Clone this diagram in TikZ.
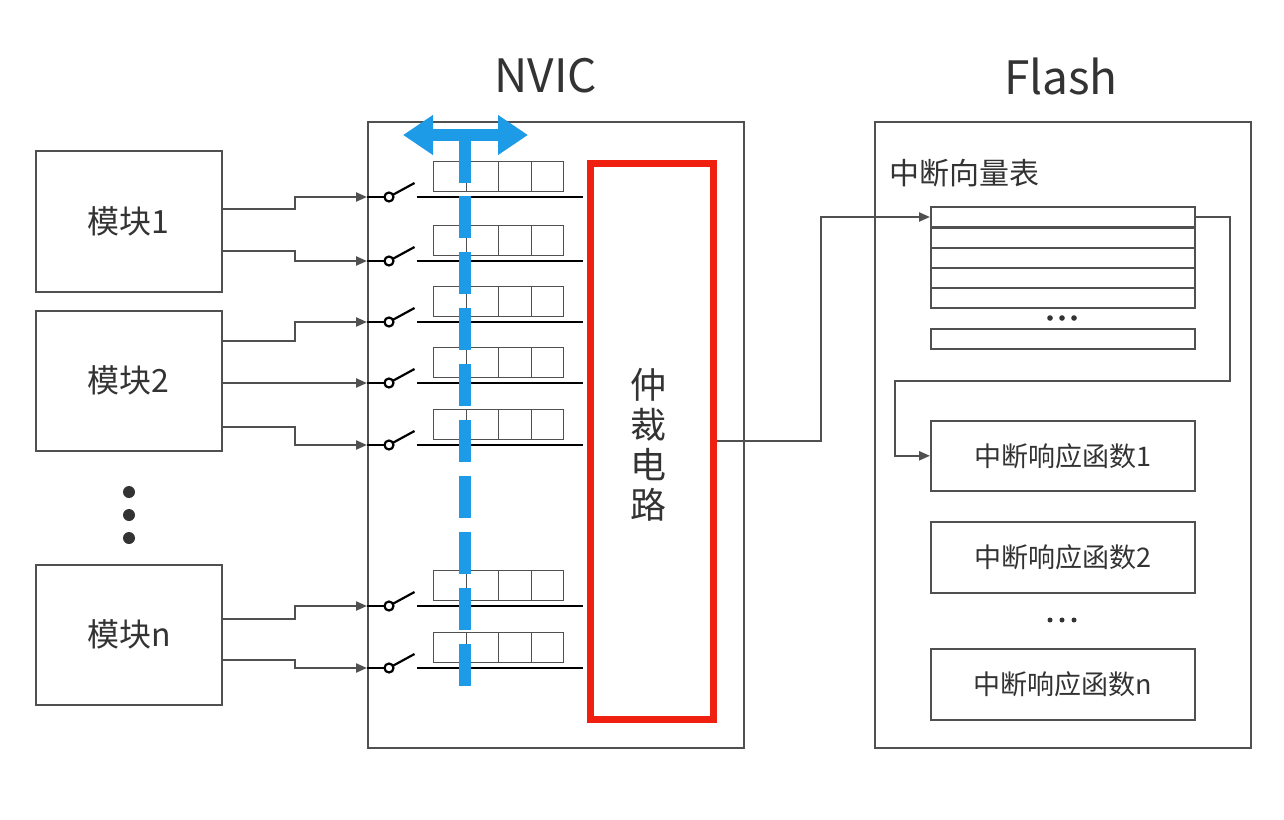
\documentclass[tikz,border=0pt]{standalone}
\usepackage{fontspec}
\setmainfont{Noto Sans CJK SC}
\usetikzlibrary{arrows.meta}
\definecolor{txt}{HTML}{333333}
\definecolor{edge}{HTML}{505050}
\definecolor{busblue}{HTML}{1E9BE6}
\definecolor{arbred}{HTML}{F02010}
\begin{document}
\begin{tikzpicture}[x=1pt,y=-1pt,
    box/.style={draw=edge, line width=1.6pt, fill=white, inner sep=0pt, anchor=north west},
    sig/.style={draw=edge, line width=2.2pt, -{Triangle[length=11pt,width=9pt]}},
    cell/.style={draw=edge, line width=1.4pt, minimum width=32.5pt, minimum height=30pt, inner sep=0pt, anchor=north west},
    vrow/.style={draw=edge, line width=1.8pt, minimum width=264pt, minimum height=20pt, inner sep=0pt, anchor=north west},
    lbl/.style={text=txt, font=\fontsize{32}{34}\selectfont}]
    \useasboundingbox (0,0) rectangle (1284,819);

    % Titles
    \node[text=txt, font=\fontsize{46}{48}\selectfont] (tnvic) at (546,76) {NVIC};
    \node[text=txt, font=\fontsize{46}{48}\selectfont] (tflash) at (1061,76) {Flash};

    % Outer boxes
    \node[box, minimum width=376pt, minimum height=626pt] (nvic) at (367,121) {};
    \node[box, minimum width=376pt, minimum height=626pt] (flash) at (874,121) {};

    % Modules
    \node[box, minimum width=186pt, minimum height=141pt] (m1) at (35,150) {};
    \node[lbl] at (m1.center) {模块1};
    \node[box, minimum width=186pt, minimum height=140pt] (m2) at (35,310) {};
    \node[lbl] at (m2.center) {模块2};
    \node[box, minimum width=186pt, minimum height=140pt] (mn) at (35,564) {};
    \node[lbl] at (mn.center) {模块n};
    \foreach \y in {492,515,538} \fill[txt] (129,\y) circle (6pt);

    % Inputs, switches, registers
    \foreach \ya/\yb in {209/197, 251/261, 341/322, 383/383, 427/445, 619/606, 660/668} {
        \draw[sig] (221,\ya) -| (295,\ya) |- (367,\yb);
        \draw[black, line width=2.2pt] (367,\yb) -- (384,\yb);
        \draw[black, line width=2.2pt] (389,\yb) ++(3.5,-2) -- ++(22,-12);
        \draw[black, line width=2.2pt, fill=white] (389,\yb) circle (4.5pt);
        \draw[black, line width=2.2pt] (417,\yb) -- (583,\yb);
        \foreach \i in {0,...,3}
            \node[cell] at (433+\i*32.5,\yb-36) {};
    }

    % Bus
    \draw[busblue, line width=12pt, dash pattern=on 42pt off 14pt] (465,140) -- (465,697);
    \draw[busblue, line width=12pt, {Triangle[length=30pt,width=38pt]}-{Triangle[length=30pt,width=38pt]}] (403,135) -- (528,135);
    \draw[busblue, line width=12pt] (465,130) -- (465,183);

    % Arbiter
    \node[draw=arbred, line width=7pt, fill=white, minimum width=123pt, minimum height=556pt, anchor=north west] (arb) at (586.5,159.5) {};
    \node[lbl, align=center, font=\fontsize{36}{40}\selectfont] at (648,445) {仲\\裁\\电\\路};

    % Vector table
    \node[lbl, anchor=west, font=\fontsize{30}{32}\selectfont] (vlabel) at (886,173) {中断向量表};
    \foreach \y [count=\k] in {206,227,247,267,287}
        \node[vrow] (v\k) at (930,\y) {};
    \foreach \x in {-12,0,12} \fill[txt] (1062+\x,318) circle (2.8pt);
    \node[vrow] (vlast) at (930,328) {};

    % Handlers
    \node[box, minimum width=264pt, minimum height=70pt] (h1) at (930,420) {};
    \node[lbl, font=\fontsize{27}{29}\selectfont] at (h1.center) {中断响应函数1};
    \node[box, minimum width=264pt, minimum height=71pt] (h2) at (930,521) {};
    \node[lbl, font=\fontsize{27}{29}\selectfont] at (h2.center) {中断响应函数2};
    \foreach \x in {-12,0,12} \fill[txt] (1062+\x,620) circle (2.5pt);
    \node[box, minimum width=264pt, minimum height=71pt] (hn) at (930,648) {};
    \node[lbl, font=\fontsize{27}{29}\selectfont] at (hn.center) {中断响应函数n};

    % Connectors
    \draw[sig] (arb.east |- 0,441) -| (821,217) -- (930,217);
    \draw[sig] (1194,217) -- (1230,217) |- (895,381) |- (h1.west);
\end{tikzpicture}
\end{document}
